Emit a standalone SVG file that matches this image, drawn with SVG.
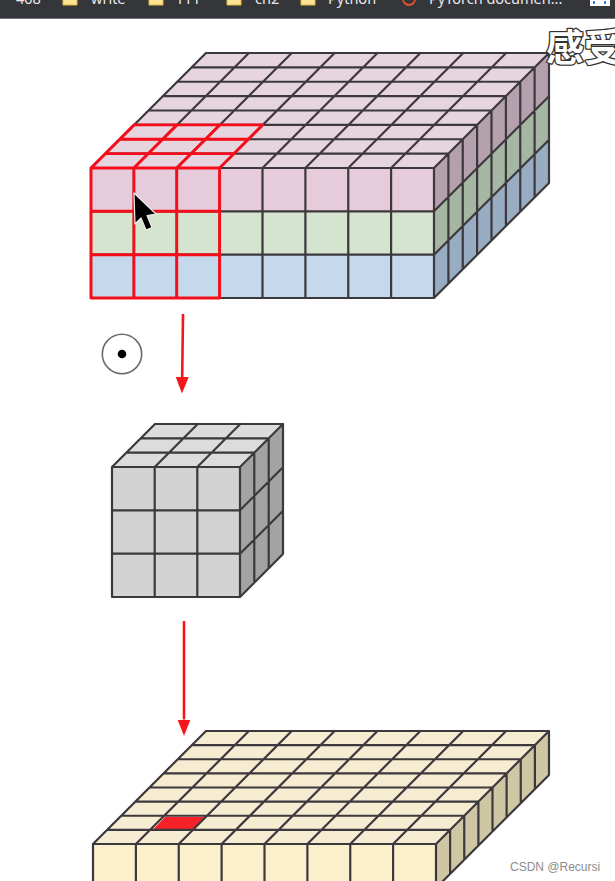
<svg xmlns="http://www.w3.org/2000/svg" width="615" height="881" viewBox="0 0 615 881">
<style>
.grid{fill:none;stroke:#3d383c;stroke-width:2.2;stroke-linecap:round;stroke-linejoin:round}
.red{fill:none;stroke:#f5101c;stroke-width:2.9;stroke-linecap:round;stroke-linejoin:round}
.tab{font:14.5px "Noto Sans","Liberation Sans",sans-serif;fill:#e8eaed}
.folder{fill:#fde293;stroke:#e2b93f;stroke-width:1}
.arrow{stroke:#f5161f;stroke-width:2.6;fill:none;marker-end:url(#head)}
</style>
<defs>
<filter id="soft" filterUnits="userSpaceOnUse" x="0" y="0" width="615" height="881"><feGaussianBlur stdDeviation="0.5"/></filter>
<marker id="head" markerUnits="userSpaceOnUse" markerWidth="17" markerHeight="14" refX="0" refY="6.5" orient="auto"><path d="M0 0L16.5 6.5L0 13Z" fill="#f5161f"/></marker>
</defs>
<rect width="615" height="881" fill="#fff"/>
<g id="browser-bar">
<rect width="615" height="18" fill="#35363a"/>
<rect y="18" width="615" height="1" fill="#70737a"/>
<text class="tab" x="16" y="3.5">408</text>
<path class="folder" d="M63 -2h14v7h-14z"/>
<text class="tab" x="91" y="3.5">write</text>
<path class="folder" d="M149 -2h14v7h-14z"/>
<text class="tab" x="176" y="3.5">TTT</text>
<path class="folder" d="M227 -2h14v7h-14z"/>
<text class="tab" x="255" y="3.5">ch2</text>
<path class="folder" d="M301 -2h14v7h-14z"/>
<text class="tab" x="328" y="3.5">Python</text>
<circle cx="409" cy="-1" r="6" fill="none" stroke="#e8502e" stroke-width="1.8"/>
<text class="tab" x="429" y="3.5">PyTorch documen...</text>
<rect x="590" y="0" width="20" height="6" fill="#fff"/>
<path d="M594 1v3M605 1v3" stroke="#2f7fd8" stroke-width="2"/>
</g>
<g id="input-volume" filter="url(#soft)">
<polygon points="91,168 434,168 549,53 206,53" fill="#e6d5df"/>
<rect x="91" y="168" width="343" height="43.3" fill="#e6ccda"/>
<rect x="91" y="211.3" width="343" height="43.4" fill="#d5e4ce"/>
<rect x="91" y="254.7" width="343" height="43.3" fill="#c5d9ed"/>
<polygon points="434,168 549,53 549,96.3 434,211.3" fill="#b5a1ad"/>
<polygon points="434,211.3 549,96.3 549,139.7 434,254.7" fill="#a5b6a2"/>
<polygon points="434,254.7 549,139.7 549,183 434,298" fill="#98acc2"/>
<path class="grid" d="M91 168h343M105.4 153.6h343M119.75 139.25h343M134.1 124.9h343M148.5 110.5h343M162.9 96.1h343M177.25 81.75h343M191.6 67.4h343M206 53h343
M91 168l115 -115M133.9 168l115 -115M176.75 168l115 -115M219.6 168l115 -115M262.5 168l115 -115M305.4 168l115 -115M348.25 168l115 -115M391.1 168l115 -115M434 168l115 -115
M91 168v130M133.9 168v130M176.75 168v130M219.6 168v130M262.5 168v130M305.4 168v130M348.25 168v130M391.1 168v130M434 168v130
M91 211.3h343M91 254.7h343M91 298h343
M448.4 153.6v130M462.75 139.25v130M477.1 124.9v130M491.5 110.5v130M505.9 96.1v130M520.25 81.75v130M534.6 67.4v130M549 53v130
M434 211.3l115 -115M434 254.7l115 -115M434 298l115 -115"/>
<path class="red" d="M91 168h128.6M105.4 153.6h128.6M119.75 139.25h128.6M134.1 124.9h128.6
M91 168l43.1 -43.1M133.9 168l43.1 -43.1M176.75 168l43.1 -43.1M219.6 168l43.1 -43.1
M91 168v130M133.9 168v130M176.75 168v130M219.6 168v130
M91 211.3h128.6M91 254.7h128.6M91 298h128.6"/>
</g>
<g id="convolution-symbol" filter="url(#soft)">
<circle cx="122" cy="354" r="19.7" fill="#fff" stroke="#6a6a6a" stroke-width="1.6"/>
<circle cx="122" cy="354" r="4.3" fill="#000"/>
</g>
<g id="kernel-cube" filter="url(#soft)">
<polygon points="112,467 240,467 283,424 155,424" fill="#dcdcdc"/>
<rect x="112" y="467" width="128" height="130" fill="#d3d3d3"/>
<polygon points="240,467 283,424 283,554 240,597" fill="#a3a3a3"/>
<path class="grid" d="M112 467h128M126.3 452.7h128M140.7 438.3h128M155 424h128
M112 467l43 -43M154.7 467l43 -43M197.3 467l43 -43M240 467l43 -43
M112 467v130M154.7 467v130M197.3 467v130M240 467v130
M112 510.3h128M112 553.7h128M112 597h128
M254.3 452.7v130M268.7 438.3v130M283 424v130
M240 510.3l43 -43M240 553.7l43 -43M240 597l43 -43"/>
</g>
<g id="output-volume" filter="url(#soft)">
<polygon points="93,844 436,844 549,731 206,731" fill="#f6ecd2"/>
<rect x="93" y="844" width="343" height="44" fill="#fcefcc"/>
<polygon points="436,844 549,731 549,775 436,888" fill="#cfc6a3"/>
<polygon points="153,829.5 193,829.5 205,817 165,817" fill="#f5202a"/>
<path class="grid" d="M93 844h343M107.1 829.9h343M121.25 815.75h343M135.4 801.6h343M149.5 787.5h343M163.6 773.4h343M177.75 759.25h343M191.9 745.1h343M206 731h343
M93 844l113 -113M135.9 844l113 -113M178.75 844l113 -113M221.6 844l113 -113M264.5 844l113 -113M307.4 844l113 -113M350.25 844l113 -113M393.1 844l113 -113M436 844l113 -113
M93 844v44M135.9 844v44M178.75 844v44M221.6 844v44M264.5 844v44M307.4 844v44M350.25 844v44M393.1 844v44M436 844v44
M450.1 829.9v44M464.25 815.75v44M478.4 801.6v44M492.5 787.5v44M506.6 773.4v44M520.75 759.25v44M534.9 745.1v44M549 731v44
M436 888l113 -113"/>
</g>
<g id="connectors" filter="url(#soft)">
<path class="arrow" d="M183 314L182.2 377"/>
<path class="arrow" d="M184 621V719.500"/>
</g>
<g id="cursor" filter="url(#soft)">
<polygon points="134,193 135,224 141,218 146,230 152,227.500 147,215.500 156,214" fill="#000" stroke="#eee" stroke-width="1.2" stroke-linejoin="round"/>
</g>
<text id="caption" x="546" y="61" font-family="'Noto Sans CJK SC',sans-serif" font-weight="700" font-size="38" fill="#fff" stroke="#333" stroke-width="2.6" paint-order="stroke" stroke-linejoin="round">感受</text>
<text id="watermark" x="510" y="871" font-family="'Liberation Sans',Arial,sans-serif" font-size="12" fill="#8c8c8c">CSDN @Recursi</text>
</svg>
